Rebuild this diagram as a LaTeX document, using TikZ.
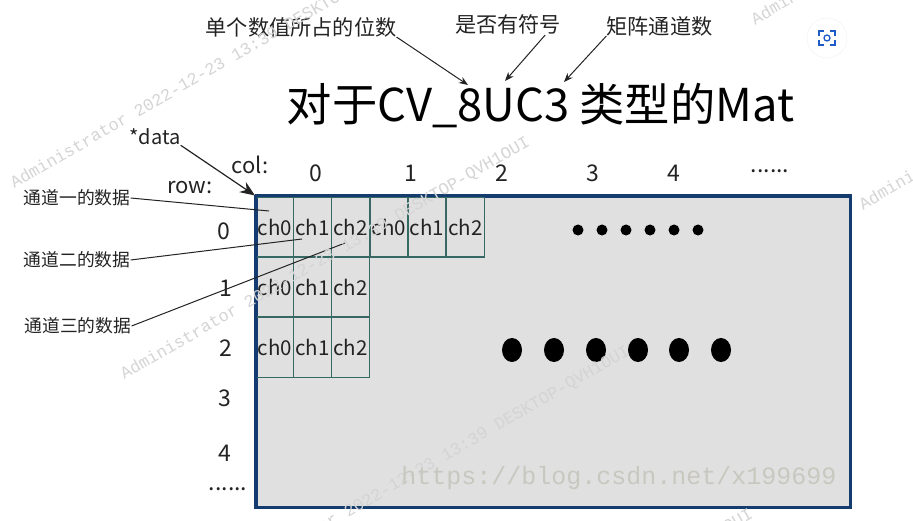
\documentclass[tikz,border=0pt]{standalone}
\usepackage{fontspec}
\setmainfont{Noto Sans CJK SC}
\newfontfamily\markfont{Liberation Mono}
\definecolor{MatBlue}{RGB}{20, 60, 110}
\definecolor{MatGray}{RGB}{224, 224, 224}
\definecolor{CellGreen}{RGB}{55, 105, 100}
\definecolor{LabelInk}{RGB}{35, 35, 35}
\definecolor{IconBlue}{RGB}{30, 90, 200}
\definecolor{UrlGray}{RGB}{200, 200, 192}
\usetikzlibrary{arrows.meta, positioning}
\newcommand{\px}[1]{\fontsize{#1}{#1}\selectfont}

\begin{document}
\begin{tikzpicture}[x=1pt, y=-1pt, every node/.style={inner sep=0pt, text=LabelInk}]
        \tikzstyle{cellbox} = [rectangle, draw=CellGreen, line width=1.2pt, minimum width=37.5pt, minimum height=60pt, font=\px{20.5}]
        \tikzstyle{toplabel} = [font=\px{21.2}]
        \tikzstyle{sidelabel} = [font=\px{17.8}]
        \tikzstyle{axislabel} = [font=\px{23}]
        \tikzstyle{arrow} = [-{Stealth[length=9pt, width=7pt]}, line width=1pt, LabelInk]
        \tikzstyle{leader} = [line width=1pt, LabelInk]
        \tikzstyle{stamp} = [font=\px{17}\markfont, text=black!17, rotate=30, anchor=west]

        \useasboundingbox (0,0) rectangle (913,521);
        \clip (0,0) rectangle (913,521);

        % Matrix
        \node (mat) [rectangle, draw=MatBlue, fill=MatGray, line width=3pt, minimum width=594pt, minimum height=310pt] at (553.5,352) {};

        % Cells
        \node (c00) [cellbox] at (275,227) {ch0};
        \node (c01) [cellbox] at (312.5,227) {ch1};
        \node (c02) [cellbox] at (350.5,227) {ch2};
        \node (c03) [cellbox] at (389,227) {ch0};
        \node (c04) [cellbox] at (427,227) {ch1};
        \node (c05) [cellbox] at (465.5,227) {ch2};
        \node (c10) [cellbox] at (275,287) {ch0};
        \node (c11) [cellbox] at (312.5,287) {ch1};
        \node (c12) [cellbox] at (350.5,287) {ch2};
        \node (c20) [cellbox] at (275,347.5) {ch0};
        \node (c21) [cellbox] at (312.5,347.5) {ch1};
        \node (c22) [cellbox] at (350.5,347.5) {ch2};
        \draw [MatBlue, line width=3pt] (mat.north west) -- (mat.south west);
        \draw [MatBlue, line width=3pt] (mat.north west) -- (mat.north east);

        % Dots
        \foreach \x in {578,602,626,650,674,698}
            \fill [black] (\x,230) circle (5.5pt);
        \foreach \x in {512,554,596,638,679,721}
            \fill [black] (\x,350) ellipse (10pt and 12pt);

        % Title
        \node (title) [font=\px{45.3}, text=black] at (540.5,106) {对于CV\_8UC3 类型的Mat};
        \node (bits) [toplabel] at (301,27) {单个数值所占的位数};
        \node (sign) [toplabel] at (508,24) {是否有符号};
        \node (chan) [toplabel] at (659.5,26) {矩阵通道数};
        \coordinate (bitsend) at (468,85);
        \coordinate (signend) at (505,81);
        \coordinate (chanend) at (564,82);

        % Axis
        \node (data) [font=\px{20}] at (155,137) {*data};
        \node (col) [font=\px{22}] at (250,165) {col:};
        \node (row) [font=\px{22}] at (190,188) {row:};
        \node (col0) [axislabel] at (316,173) {0};
        \node (col1) [axislabel] at (411,173) {1};
        \node (col2) [axislabel] at (502,173) {2};
        \node (col3) [axislabel] at (593,173) {3};
        \node (col4) [axislabel] at (674,173) {4};
        \node (coln) [axislabel] at (770,171) {......};
        \node (row0) [axislabel] at (224,231) {0};
        \node (row1) [axislabel] at (226,288) {1};
        \node (row2) [axislabel] at (226,348) {2};
        \node (row3) [axislabel] at (225,398) {3};
        \node (row4) [axislabel] at (225,453) {4};
        \node (rown) [axislabel] at (228,489) {......};

        % Side labels
        \node (one) [sidelabel] at (77,198) {通道一的数据};
        \node (two) [sidelabel] at (77,260) {通道二的数据};
        \node (three) [sidelabel] at (78,326) {通道三的数据};
        \coordinate (oneend) at (269,211);
        \coordinate (twoend) at (302,239);
        \coordinate (threeend) at (345,243);

        % Arrows
        \draw [arrow] (bits.south east) -- (bitsend);
        \draw [arrow] (sign.south east) ++(-16,1) -- (signend);
        \draw [arrow] (chan.south west) -- (chanend);
        \draw [-{Stealth[length=15pt, width=12pt]}, line width=1.2pt, LabelInk] (data.south east) -- (mat.north west);
        \draw [leader] (one.east) -- (oneend);
        \draw [leader] (two.east) -- (twoend);
        \draw [leader] (three.east) -- (threeend);

        % Watermarks
        \node (stamp1) [stamp] at (12,185) {Administrator 2022-12-23 13:39 DESKTOP-QVH1OUI};
        \node (stamp2) [stamp] at (122,376) {Administrator 2022-12-23 13:39 DESKTOP-QVH1OUI};
        \node (stamp3) [stamp] at (222,585) {Administrator 2022-12-23 13:39 DESKTOP-QVH1OUI};
        \node (stamp4) [stamp] at (860,205) {Administrator};
        \node (stamp5) [stamp] at (752,20) {Administrator};
        \node (stamp6) [stamp, anchor=east] at (752,514) {DESKTOP-QVH1OUI};
        \node (url) [font=\px{25}\markfont, text=UrlGray] at (619,478) {https://blog.csdn.net/x199699};

        % Icon
        \node (icon) [circle, fill=white, draw=black!6, minimum size=40pt] at (827,38) {};
        \draw [IconBlue, line width=1.3pt] (819,36) -- (819,31) -- (824,31) (830,31) -- (835,31) -- (835,36) (835,40) -- (835,45) -- (830,45) (824,45) -- (819,45) -- (819,40);
        \draw [IconBlue, line width=1.3pt] (827,38) circle (3pt);
\end{tikzpicture}
\end{document}
